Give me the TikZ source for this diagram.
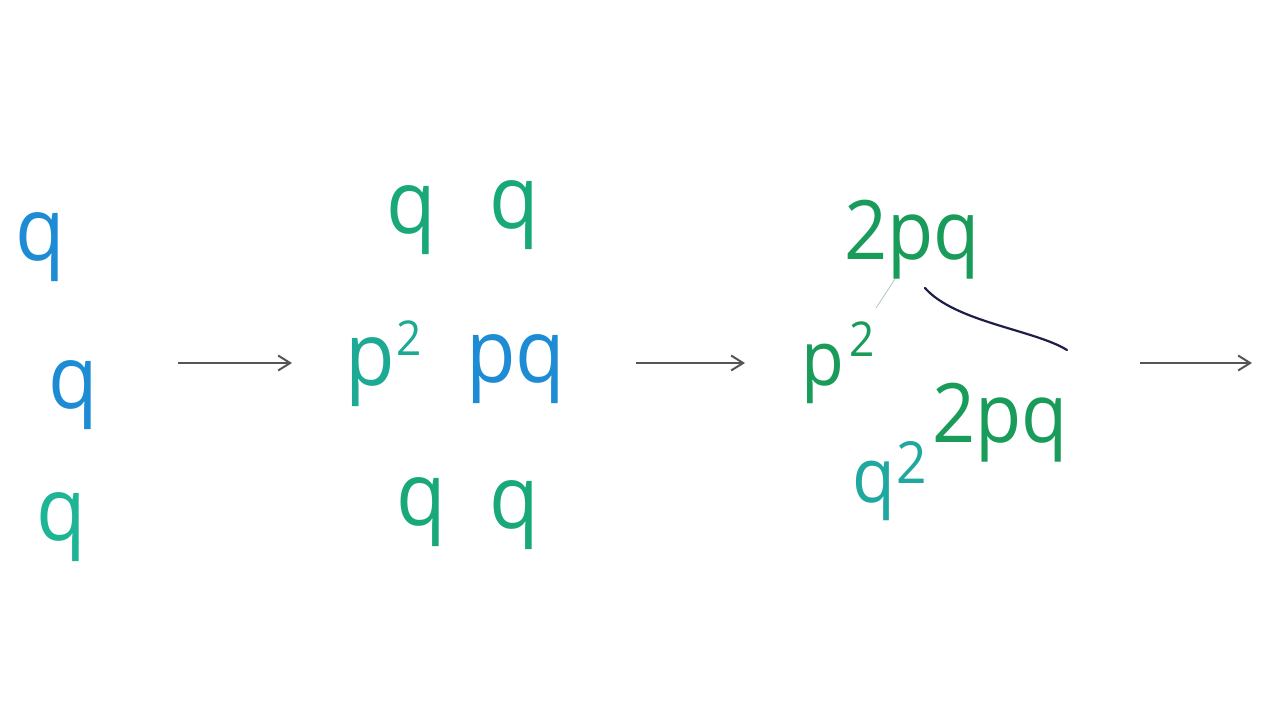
\documentclass[tikz,border=0pt]{standalone}
\usepackage{fontspec}
\setmainfont{Open Sans}[FakeStretch=0.92]
\usetikzlibrary{arrows.meta}
\definecolor{qblue}{RGB}{30,140,212}
\definecolor{qteal}{RGB}{30,180,150}
\definecolor{gteal}{RGB}{25,168,122}
\definecolor{pteal}{RGB}{28,170,148}
\definecolor{ggreen}{RGB}{25,155,90}
\definecolor{qqteal}{RGB}{30,168,160}
\definecolor{arrgray}{RGB}{85,85,85}
\definecolor{navy}{RGB}{30,30,75}
\newcommand{\fs}[1]{\fontsize{#1}{#1}\selectfont}
\begin{document}
\begin{tikzpicture}[x=0.5pt,y=-0.5pt,
  lbl/.style={anchor=base west,inner sep=0pt,outer sep=0pt},
  big/.style={lbl,font=\fs{44pt}},
  mid/.style={lbl,font=\fs{41pt}},
  sml/.style={lbl,font=\fs{38pt}},
  flow/.style={draw=arrgray,line width=1pt,-{Straight Barb[length=6pt,width=7.5pt,line width=1pt]}}]
\fill[white] (0,0) rectangle (1280,720);
\useasboundingbox (0,0) rectangle (1280,720);
% column 1
\node[big,text=qblue] (c1a) at (16,260) {q};
\node[big,text=qblue] (c1b) at (48,408) {q};
\node[big,text=qteal] (c1c) at (36,540) {q};
% column 2
\node[big,text=gteal] (c2a) at (386,233) {q};
\node[big,text=gteal] (c2b) at (489,228) {q};
\node[big,text=pteal] (c2p) at (345,385) {p\kern1pt\raisebox{15pt}{\fs{24pt}2}};
\node[big,text=qblue] (c2pq) at (466,382) {pq};
\node[big,text=gteal] (c2c) at (396,525) {q};
\node[big,text=gteal] (c2d) at (489,528) {q};
% column 3
\node[mid,text=ggreen] (c3a) at (844,259) {2pq};
\node[sml,text=ggreen] (c3p) at (801,385) {p\kern3pt\raisebox{14.5pt}{\fs{24pt}2}};
\node[mid,text=ggreen] (c3b) at (932,442) {2pq};
\node[sml,text=qqteal] (c3q) at (852,502) {q\kern1pt\raisebox{9.5pt}{\fs{29pt}2}};
% arrows
\coordinate (a1s) at (178,363); \coordinate (a1e) at (292,363);
\coordinate (a2s) at (636,363); \coordinate (a2e) at (745,363);
\coordinate (a3s) at (1140,363); \coordinate (a3e) at (1252,363);
\draw[flow] (a1s) -- (a1e);
\draw[flow] (a2s) -- (a2e);
\draw[flow] (a3s) -- (a3e);
% strokes
\coordinate (g1) at (895,279); \coordinate (g2) at (876,308);
\draw[draw={rgb,255:red,175;green,200;blue,190},line width=0.4pt] (g1) -- (g2);
\coordinate (k1) at (925,288); \coordinate (k2) at (1067,350);
\draw[navy,line width=1.1pt,line cap=round] (k1) .. controls (955,322) and (1035,330) .. (k2);
\end{tikzpicture}
\end{document}
